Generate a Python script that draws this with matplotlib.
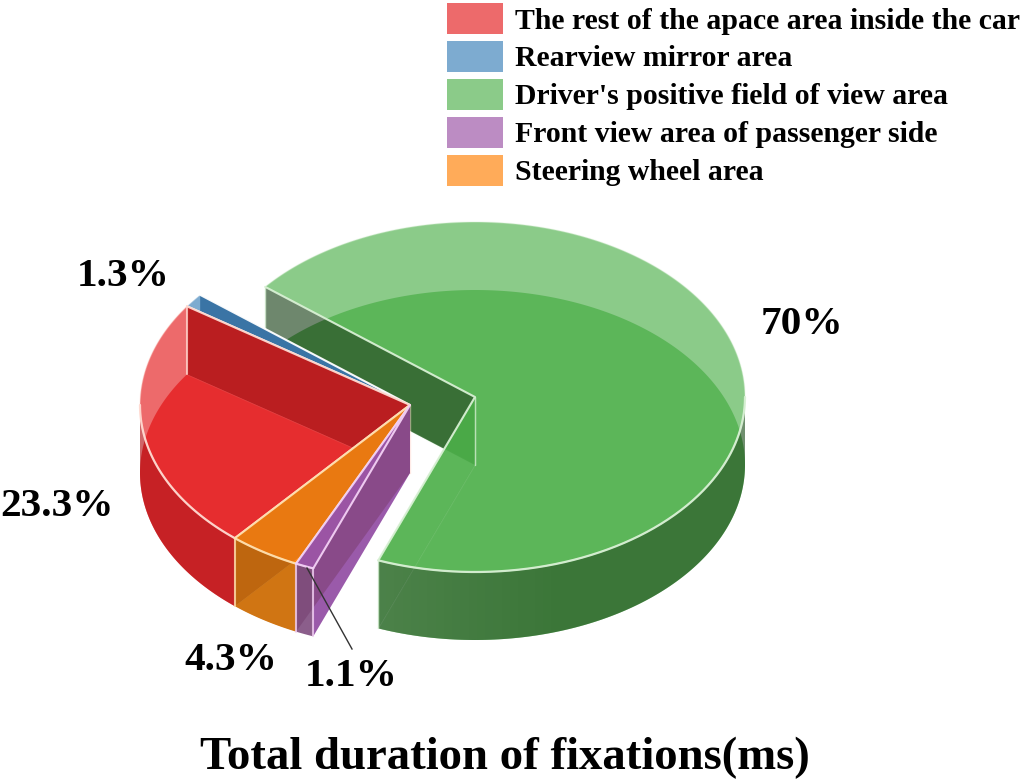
import numpy as np
import matplotlib
matplotlib.use("Agg")
import matplotlib.pyplot as plt
from matplotlib.patches import Polygon, Patch

# ---- data ----
categories = ["The rest of the apace area inside the car", "Rearview mirror area",
              "Driver's positive field of view area", "Front view area of passenger side",
              "Steering wheel area"]
values = [23.3, 1.3, 70, 1.1, 4.3]
value_labels = ["23.3%", "1.3%", "70%", "1.1%", "4.3%"]
title = "Total duration of fixations(ms)"

# ---- style ----
FONT = "Liberation Serif"
base = ["#e41a1c", "#377eb8", "#4daf4a", "#984ea3", "#ff7f00"]
edge = ["#ffd9d0", "#ffffff", "#d8f0d4", "#f3d0f5", "#ffe0b0"]
ALPHA = 0.65
BOTTOM_ALPHA = 0.75
top_alpha = [ALPHA, ALPHA, ALPHA, 0.95, ALPHA]
RX, RY, DEPTH = 270, 175, 68
START = 229.56
CENTER_MAIN = (475, 397)
CENTER_GROUP = (410, 405)
centers = [CENTER_GROUP, CENTER_GROUP, CENTER_MAIN, CENTER_GROUP, CENTER_GROUP]
c = lambda r, g, b, a=1.0: (r / 255, g / 255, b / 255, a)
# wall colours: first radial (start angle), second radial (end angle), outer
wall_start = [None, None, c(14, 55, 12, .6), c(100, 2, 125, .65), None]
wall_end = [c(86, 0, 5, .85), c(30, 70, 110, .85), matplotlib.colors.to_rgba(base[2], .75),
            c(100, 37, 63, .3), c(180, 74, 0, .8)]
wall_outer = [c(175, 0, 5, .6), None, c(17, 68, 15, .6), c(100, 40, 100, .75), c(188, 100, 0, .7)]

# ---- figure ----
fig = plt.figure(figsize=(10.25, 7.82), dpi=100)
ax = fig.add_axes([0, 0, 1, 1])
ax.set_xlim(0, 1025)
ax.set_ylim(782, 0)
ax.axis("off")

# angles from values, clockwise from START
frac = np.array(values) / sum(values) * 360
a1 = START - np.concatenate([[0], np.cumsum(frac)[:-1]])
a2 = a1 - frac


def pt(center, deg, dz=0):
    t = np.radians(deg)
    return np.column_stack([center[0] + RX * np.cos(t), center[1] - RY * np.sin(t) + dz])


def arc(center, s, e, dz=0):
    n = max(2, int(abs(s - e) * 2))
    return pt(center, np.linspace(s, e, n), dz)


def wedge(i, dz=0):
    cc = np.array(centers[i], float) + [0, dz]
    return np.vstack([cc, arc(centers[i], a1[i], a2[i], dz)])


def radial(i, deg):
    cc = np.array(centers[i], float)
    p = pt(centers[i], np.array([deg]))[0]
    return np.array([cc, p, p + [0, DEPTH], cc + [0, DEPTH]])


def front_ranges(i):
    s, e = a1[i], a2[i]
    lo, hi = min(s, e), max(s, e)
    k = np.floor((lo + 180) / 360)
    res = []
    for m in (k - 1, k, k + 1):
        fl, fh = -180 + 360 * m, 360 * m
        l, h = max(lo, fl), min(hi, fh)
        if h > l:
            res.append((l, h))
    return res


def outer(i):
    return [np.vstack([arc(centers[i], h, l), arc(centers[i], l, h, DEPTH)])
            for l, h in front_ranges(i)]


def add(poly, fc, ec="none", lw=0, z=2, clip=None):
    p = Polygon(poly, closed=True, fc=fc, ec=ec, lw=lw, zorder=z, joinstyle="round")
    ax.add_patch(p)
    if clip is not None:
        p.set_clip_path(clip)
    return p


def line(poly, col, z, lw=1.5, alpha=0.95):
    poly = np.asarray(poly)
    ax.plot(poly[:, 0], poly[:, 1], color=col, lw=lw, alpha=alpha, zorder=z,
            solid_capstyle="round")


def outline_purple(i):
    cc = np.array(centers[i], float)
    return np.vstack([cc, pt(centers[i], np.array([a2[i]])),
                      arc(centers[i], a2[i], a1[i], DEPTH), cc + [0, DEPTH]])


def outline_orange(i):
    cc = np.array(centers[i], float)
    return np.vstack([cc, pt(centers[i], np.array([a2[i]])),
                      arc(centers[i], a2[i], a1[i], DEPTH),
                      pt(centers[i], np.array([a1[i]]))])


def draw(i, z):
    fc = matplotlib.colors.to_rgba(base[i], top_alpha[i])
    bc = matplotlib.colors.to_rgba(base[i], BOTTOM_ALPHA)
    clip = None
    if i == 1:  # the sliver: only what shows through its own top
        clip = Polygon(wedge(i), closed=True, transform=ax.transData)
    if i == 4:  # the steering wheel slice stays inside its own outline
        clip = Polygon(outline_orange(i), closed=True, transform=ax.transData)
        add(outline_orange(i), "white", z=z - .1)
    if i == 3:
        add(outline_purple(i), "white", z=z - .1)
    if i != 3:  # the passenger slice shows its walls directly on white
        add(wedge(i, DEPTH), bc, z=z, clip=clip)
    if i not in (1, 3, 4):
        line(wedge(i, DEPTH)[[1, 0, -1]], edge[i], z + .1, lw=1.0, alpha=.35)
    if wall_start[i] is not None:
        add(radial(i, a1[i]), wall_start[i], z=z + .2)
    if wall_end[i] is not None:
        add(radial(i, a2[i]), wall_end[i], z=z + .3, clip=clip)
    if wall_outer[i] is not None:
        for o in outer(i):
            add(o, wall_outer[i], z=z + .4)
    add(wedge(i), fc, z=z + .5)
    top = wedge(i)
    # radial edges strong, back rim faint, front rim strong
    line(top[[-1, 0, 1]], edge[i], z + .6, lw=1.5)
    line(arc(centers[i], a1[i], a2[i]), edge[i], z + .6, lw=1.0, alpha=.35)
    for l, h in front_ranges(i):
        line(arc(centers[i], l, h), edge[i], z + .7, lw=1.6)
    if i != 1:
        for d, w in ((a1[i], wall_start[i]), (a2[i], wall_end[i])):
            if w is not None:
                r = radial(i, d)
                line(r[[1, 2]], edge[i], z + .6, lw=1.5 if i != 2 else 1.0, alpha=.8)
                if i not in (3, 4):
                    line(r[[0, 3]], edge[i], z + .6, lw=1.0, alpha=.5)


# green slice behind
draw(2, 2)

# soft light on the left of the green rim
for o in outer(2):
    ramp = np.ones((1, 256, 4))
    ramp[..., 3] = np.linspace(0.09, 0, 256)
    x0 = o[:, 0].min()
    im = ax.imshow(ramp, extent=(x0, x0 + 190, o[:, 1].max(), o[:, 1].min()),
                   aspect="auto", zorder=2.45, interpolation="bilinear")
    im.set_clip_path(Polygon(o, closed=True, transform=ax.transData))
ax.set_xlim(0, 1025)
ax.set_ylim(782, 0)

# white under the front group so that it hides the green behind it
group = [0, 1, 4, 3]
for i in group:
    add(wedge(i), "white", z=3)
    add(wedge(i, DEPTH), "white", z=3)
    for d in (a1[i], a2[i]):
        add(radial(i, d), "white", z=3)
    for o in outer(i):
        add(o, "white", z=3)

for n, i in enumerate([1, 0, 4, 3]):
    draw(i, 4 + n)

# ---- value labels ----
label_pos = [(57, 507), (123, 276), (802, 325), (351, 677), (231, 660)]
for t, (x, y) in zip(value_labels, label_pos):
    ax.text(x, y, t, family=FONT, weight="bold", fontsize=29.7, ha="center", va="center",
            color="black", zorder=20)
ax.plot([307, 352], [568, 649], color="#333333", lw=1.0, zorder=15)

ax.text(505, 758, title, family=FONT, weight="bold", fontsize=33.7, ha="center", va="center",
        color="black", zorder=20)

# ---- legend ----
handles = [Patch(fc=b, alpha=ALPHA, ec="none") for b in base]
leg = ax.legend(handles, categories, loc="upper left", bbox_to_anchor=(447 / 1025, 1 - 3 / 782),
                frameon=False, prop={"family": FONT, "weight": "bold", "size": 21.4},
                borderpad=0, borderaxespad=0, handlelength=1.885, handleheight=1.23,
                handletextpad=0.4, labelspacing=0.215)
leg.set_zorder(20)

fig.savefig("out.png", dpi=100)
